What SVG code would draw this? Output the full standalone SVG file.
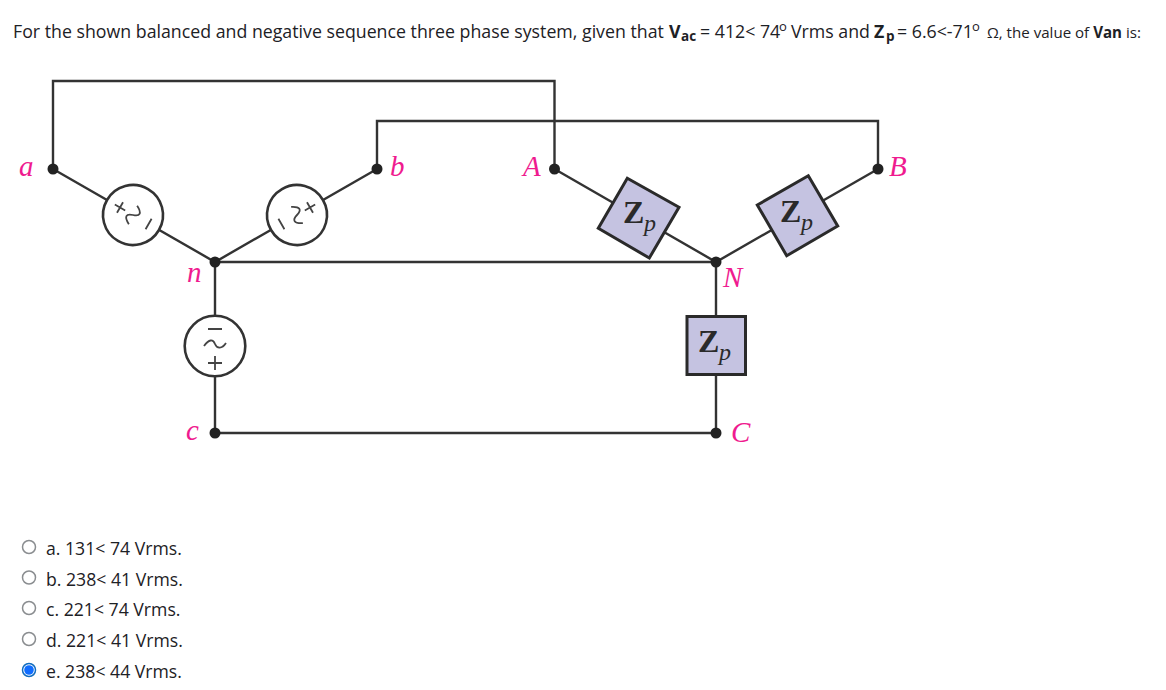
<svg xmlns="http://www.w3.org/2000/svg" width="1166" height="690" viewBox="0 0 1166 690">
<style>
.t{font-family:"Open Sans","Noto Sans",sans-serif;font-size:17.75px;fill:#1d2125}
.op{font-size:17.65px}
.b{font-weight:700}
.sub{font-size:13.5px;font-weight:700}
.sup{font-size:13px}
.w{fill:none;stroke:#333;stroke-width:2.4}
.dot{fill:#222}
.src{fill:#fff;stroke:#333;stroke-width:2.6}
.sym{fill:none;stroke:#444;stroke-width:1.8}
.z{fill:#c5c3e1;stroke:#2a2a2a;stroke-width:3}
.lab{font-family:"Liberation Serif",serif;font-size:29px;font-style:italic;fill:#ef1b8f}
.zt{font-family:"Liberation Serif",serif;font-size:32px;font-weight:700;fill:#2a2a2a}
.zs{font-family:"Liberation Serif",serif;font-size:24px;font-style:italic;fill:#2a2a2a}
.o{fill:#fff;stroke:#8a8d90;stroke-width:1.5}
</style>
<rect width="1166" height="690" fill="#fff"/>
<g id="question">
<text class="t" x="13" y="38">For the shown balanced and negative sequence three phase system, given that</text>
<text class="t b" x="669" y="38">V</text>
<text class="t sub" x="681" y="41">ac</text>
<text class="t" x="700" y="38">= 412&lt; 74</text>
<text class="t sup" x="779" y="31">o</text>
<text class="t" x="791" y="38">Vrms and</text>
<text class="t b" x="874" y="38">Z</text>
<text class="t sub" x="886" y="41">p</text>
<text class="t" x="897" y="38">= 6.6&lt;-71</text>
<text class="t sup" x="972" y="31">o</text>
<text class="t" x="987" y="38" style="font-size:15.1px">Ω, the value of <tspan class="b">Van</tspan> is:</text>
</g>
<g id="connectors">
<path class="w" d="M53 169V81H554.500V169"/>
<path class="w" d="M377 169V121H878V169"/>
<path class="w" d="M53 169L215 262L377 169"/>
<path class="w" d="M215 262H716"/>
<path class="w" d="M554.500 169L716 262L878 169"/>
<path class="w" d="M215 262V433H716V262"/>
</g>
<g id="node-a"><circle class="dot" cx="53" cy="169" r="5.5"/><text class="lab" x="19" y="176">a</text></g>
<g id="node-b"><circle class="dot" cx="377" cy="169" r="5.5"/><text class="lab" x="390" y="176">b</text></g>
<g id="node-n"><circle class="dot" cx="215" cy="262" r="5.5"/><text class="lab" x="187" y="282">n</text></g>
<g id="node-c"><circle class="dot" cx="215" cy="433" r="5.5"/><text class="lab" x="186" y="440">c</text></g>
<g id="node-A"><circle class="dot" cx="554.500" cy="169" r="5.5"/><text class="lab" x="523" y="176">A</text></g>
<g id="node-B"><circle class="dot" cx="878" cy="169" r="5.5"/><text class="lab" x="889" y="176">B</text></g>
<g id="node-N"><circle class="dot" cx="716" cy="262" r="5.5"/><text class="lab" x="723" y="287">N</text></g>
<g id="node-C"><circle class="dot" cx="716" cy="433" r="5.5"/><text class="lab" x="731" y="442">C</text></g>
<g id="source-a" transform="translate(133 215) rotate(-60)">
<circle class="src" r="30"/>
<path class="sym" d="M-6 -15H6M0 -21V-9M-10 1C-6 -7 -2 -7 0 0C2 7 6 7 10 -1M-6 18H6"/>
</g>
<g id="source-b" transform="translate(297 215) rotate(60)">
<circle class="src" r="30"/>
<path class="sym" d="M-6 -15H6M0 -21V-9M-10 1C-6 -7 -2 -7 0 0C2 7 6 7 10 -1M-6 18H6"/>
</g>
<g id="source-c" transform="translate(215 346)">
<circle class="src" r="30.300"/>
<path class="sym" d="M-7 -17H7M-11 0C-6 -7 -2 -7 0 -2C2 3 7 3 11 -3M-7 17H7M0 10V24"/>
</g>
<g id="impedance-A">
<polygon class="z" points="627.3,178.3 679,207.3 649.3,258 598.3,228.3"/>
<text class="zt" x="623" y="223">Z</text><text class="zs" x="644" y="231">p</text>
</g>
<g id="impedance-B">
<polygon class="z" points="808.3,175.7 837.7,226 786.7,255.7 757.3,205"/>
<text class="zt" x="780" y="222">Z</text><text class="zs" x="801" y="230">p</text>
</g>
<g id="impedance-C">
<rect class="z" x="687" y="316.500" width="58.500" height="58"/>
<text class="zt" x="698" y="352">Z</text><text class="zs" x="719" y="360">p</text>
</g>
<g id="options">
<circle class="o" cx="29" cy="547" r="6.500"/><text class="t op" x="46" y="555">a. 131&lt; 74 Vrms.</text>
<circle class="o" cx="29" cy="577.500" r="6.500"/><text class="t op" x="46" y="586">b. 238&lt; 41 Vrms.</text>
<circle class="o" cx="29" cy="608" r="6.500"/><text class="t op" x="46" y="616">c. 221&lt; 74 Vrms.</text>
<circle class="o" cx="29" cy="639" r="6.500"/><text class="t op" x="46" y="647">d. 221&lt; 41 Vrms.</text>
<circle cx="29" cy="670" r="6.500" fill="#fff" stroke="#0f6cbf" stroke-width="1.500"/><circle cx="29" cy="670" r="4.800" fill="#0f6cff"/><text class="t op" x="46" y="678">e. 238&lt; 44 Vrms.</text>
</g>
</svg>
